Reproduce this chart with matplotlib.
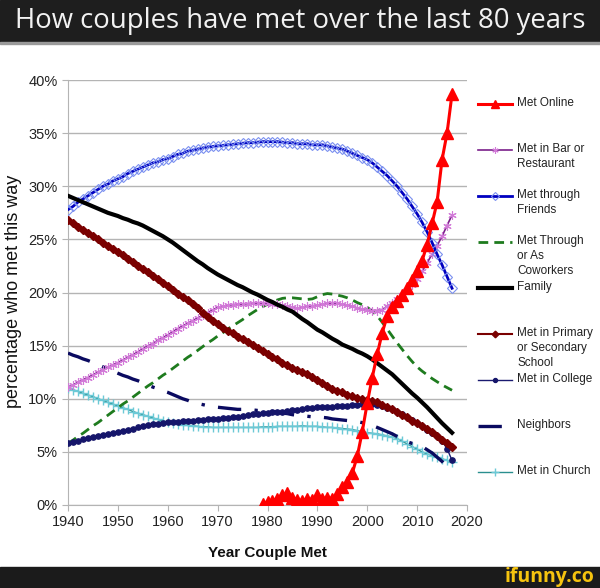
import numpy as np
import matplotlib
matplotlib.use("Agg")
import matplotlib.pyplot as plt
from matplotlib.patches import Rectangle

# dati (percentuali), un valore per anno
anni = list(range(1940, 2018))
anni_online = list(range(1979, 2018))

online = [0.1, 0.3, 0.4, 0.6, 0.9, 1.1, 0.7, 0.5, 0.4, 0.6,
          0.5, 0.9, 0.6, 0.7, 0.6, 1.0, 1.7, 2.2, 3.0, 4.6,
          6.9, 9.6, 12.0, 14.2, 16.2, 17.8, 18.6, 19.2, 19.8, 20.4,
          21.2, 22.0, 23.0, 24.5, 26.5, 28.5, 32.5, 35.0, 38.7]

bar = [11.1, 11.3, 11.55, 11.8, 12.0, 12.25, 12.5, 12.7, 12.95, 13.2,
       13.4, 13.65, 13.9, 14.15, 14.4, 14.7, 14.95, 15.2, 15.5, 15.75,
       16.0, 16.3, 16.6, 16.85, 17.1, 17.35, 17.6, 17.85, 18.1, 18.35,
       18.6, 18.7, 18.8, 18.85, 18.9, 18.9, 18.95, 19.0, 19.0, 19.0,
       19.0, 18.95, 18.9, 18.8, 18.7, 18.6, 18.55, 18.6, 18.7, 18.75,
       18.8, 18.9, 19.0, 19.0, 19.0, 18.9, 18.8, 18.7, 18.55, 18.45,
       18.4, 18.3, 18.3, 18.4, 18.7, 19.0, 19.4, 19.8, 20.2, 20.7,
       21.3, 22.0, 22.8, 23.6, 24.4, 25.3, 26.3, 27.3]

amici = [27.8, 28.1, 28.5, 28.8, 29.1, 29.4, 29.7, 30.0, 30.2, 30.5,
         30.7, 30.9, 31.2, 31.4, 31.6, 31.8, 32.0, 32.2, 32.3, 32.5,
         32.6, 32.8, 33.0, 33.1, 33.3, 33.4, 33.5, 33.6, 33.7, 33.75,
         33.8, 33.85, 33.9, 33.95, 34.0, 34.05, 34.1, 34.1, 34.15, 34.2,
         34.2, 34.2, 34.2, 34.15, 34.1, 34.1, 34.0, 34.0, 34.0, 33.9,
         33.9, 33.9, 33.8, 33.7, 33.6, 33.5, 33.3, 33.1, 32.9, 32.7,
         32.5, 32.2, 31.8, 31.4, 31.0, 30.5, 30.0, 29.4, 28.8, 28.1,
         27.4, 26.6, 25.7, 24.7, 23.6, 22.6, 21.5, 20.4]

colleghi = [5.8, 6.1, 6.45, 6.75, 7.1, 7.45, 7.75, 8.1, 8.45, 8.8,
            9.15, 9.5, 9.8, 10.15, 10.5, 10.85, 11.2, 11.5, 11.85, 12.2,
            12.5, 12.85, 13.2, 13.55, 13.9, 14.2, 14.55, 14.9, 15.25, 15.55,
            15.9, 16.2, 16.55, 16.85, 17.15, 17.45, 17.8, 18.1, 18.4, 18.65,
            18.9, 19.1, 19.3, 19.45, 19.5, 19.5, 19.45, 19.4, 19.35, 19.4,
            19.6, 19.8, 19.9, 19.85, 19.75, 19.65, 19.5, 19.3, 19.05, 18.85,
            18.6, 18.25, 17.8, 17.2, 16.55, 15.9, 15.25, 14.65, 14.05, 13.5,
            13.0, 12.6, 12.25, 11.9, 11.6, 11.3, 11.05, 10.8]

famiglia = [29.1, 28.9, 28.7, 28.5, 28.3, 28.1, 27.9, 27.7, 27.5, 27.35,
            27.2, 27.0, 26.85, 26.65, 26.5, 26.3, 26.05, 25.8, 25.55, 25.3,
            25.0, 24.7, 24.35, 24.0, 23.65, 23.3, 22.95, 22.65, 22.3, 22.0,
            21.7, 21.45, 21.2, 20.95, 20.7, 20.5, 20.25, 20.0, 19.8, 19.55,
            19.3, 19.1, 18.85, 18.65, 18.4, 18.2, 17.85, 17.5, 17.2, 16.85,
            16.5, 16.25, 15.95, 15.65, 15.4, 15.1, 14.9, 14.7, 14.45, 14.25,
            14.0, 13.7, 13.35, 13.0, 12.65, 12.3, 11.85, 11.4, 10.95, 10.5,
            10.1, 9.65, 9.2, 8.7, 8.2, 7.7, 7.25, 6.8]

scuola = [26.8, 26.5, 26.2, 25.9, 25.6, 25.3, 25.0, 24.7, 24.4, 24.1,
          23.8, 23.5, 23.2, 22.85, 22.5, 22.2, 21.9, 21.55, 21.25, 20.9,
          20.6, 20.25, 19.9, 19.6, 19.25, 18.9, 18.5, 18.1, 17.7, 17.35,
          17.0, 16.7, 16.4, 16.15, 15.85, 15.6, 15.3, 15.05, 14.75, 14.5,
          14.2, 13.95, 13.7, 13.4, 13.15, 12.9, 12.7, 12.5, 12.3, 12.05,
          11.8, 11.5, 11.2, 10.95, 10.75, 10.6, 10.4, 10.25, 10.1, 10.0,
          9.9, 9.8, 9.65, 9.45, 9.25, 9.0, 8.75, 8.5, 8.25, 7.95,
          7.7, 7.45, 7.15, 6.85, 6.5, 6.15, 5.8, 5.5]

college = [5.8, 5.95, 6.05, 6.2, 6.3, 6.4, 6.5, 6.6, 6.7, 6.8,
           6.9, 7.0, 7.1, 7.2, 7.3, 7.4, 7.5, 7.6, 7.65, 7.75,
           7.8, 7.85, 7.85, 7.9, 7.9, 7.95, 8.0, 8.0, 8.05, 8.05,
           8.1, 8.15, 8.2, 8.25, 8.3, 8.4, 8.45, 8.55, 8.6, 8.65,
           8.7, 8.75, 8.75, 8.8, 8.85, 8.9, 8.95, 9.0, 9.1, 9.15,
           9.2, 9.2, 9.25, 9.25, 9.3, 9.3, 9.35, 9.4, 9.45, 9.5,
           9.55, 9.55, 9.45, 9.3, 9.15, 9.0, 8.8, 8.55, 8.3, 8.0,
           7.7, 7.4, 7.1, 6.8, 6.45, 6.0, 5.3, 4.2]

vicini = [14.3, 14.1, 13.95, 13.75, 13.6, 13.4, 13.2, 13.0, 12.8, 12.6,
          12.4, 12.2, 12.05, 11.85, 11.7, 11.5, 11.3, 11.1, 10.95, 10.75,
          10.6, 10.4, 10.2, 10.0, 9.85, 9.65, 9.55, 9.45, 9.35, 9.25,
          9.2, 9.15, 9.1, 9.05, 9.0, 9.0, 8.95, 8.95, 8.9, 8.9,
          8.9, 8.8, 8.75, 8.65, 8.6, 8.5, 8.45, 8.4, 8.35, 8.3,
          8.3, 8.25, 8.2, 8.1, 8.05, 8.0, 7.95, 7.9, 7.85, 7.75,
          7.7, 7.5, 7.3, 7.1, 6.9, 6.7, 6.45, 6.2, 5.95, 5.8,
          5.7, 5.5, 5.2, 4.9, 4.5, 4.1, 3.6, 3.1]

chiesa = [11.0, 10.85, 10.7, 10.5, 10.35, 10.2, 10.0, 9.85, 9.65, 9.5,
          9.3, 9.15, 9.0, 8.8, 8.65, 8.5, 8.35, 8.2, 8.05, 7.9,
          7.8, 7.7, 7.6, 7.55, 7.5, 7.45, 7.4, 7.35, 7.35, 7.3,
          7.3, 7.3, 7.3, 7.3, 7.3, 7.3, 7.3, 7.3, 7.3, 7.35,
          7.35, 7.35, 7.4, 7.4, 7.4, 7.4, 7.4, 7.45, 7.4, 7.4,
          7.4, 7.35, 7.3, 7.3, 7.25, 7.2, 7.15, 7.1, 7.0, 6.9,
          6.8, 6.75, 6.7, 6.6, 6.5, 6.4, 6.25, 6.0, 5.75, 5.5,
          5.25, 5.0, 4.8, 4.65, 4.5, 4.35, 4.2, 4.05]

etichette = ["Met Online", "Met in Bar or\nRestaurant", "Met through\nFriends",
             "Met Through\nor As\nCoworkers", "Family",
             "Met in Primary\nor Secondary\nSchool", "Met in College",
             "Neighbors", "Met in Church"]

W, H = 600, 588
fig = plt.figure(figsize=(W / 100, H / 100), dpi=100)
fig.patch.set_facecolor("white")

ax = fig.add_axes([68 / W, 1 - 505 / H, 399 / W, 425 / H])

# stili delle serie
stili = [
    dict(color="#ff0000", lw=2.2, marker="^", ms=8.5, mfc="#ff0000", mec="#ff0000", zorder=10),
    dict(color="#7a1f8a", lw=1.2, marker=(6, 2, 0), ms=6, mec="#d27ad8", mew=0.8, zorder=5),
    dict(color="#0000c0", lw=2.0, marker="D", ms=5.5, mfc="none", mec="#7b90f0", mew=0.8, zorder=6),
    dict(color="#1e7b1e", lw=2.0, ls=(0, (3.5, 2.2)), zorder=4),
    dict(color="black", lw=3.0, zorder=7),
    dict(color="#7a0000", lw=1.5, marker="D", ms=4.5, mfc="#7a0000", mec="#7a0000", zorder=6),
    dict(color="#1a1a70", lw=1.0, marker="o", ms=3.8, mfc="#15156a", mec="#15156a", zorder=5),
    dict(color="#0a0a60", lw=2.4, ls=(0, (7, 4, 1, 4)), zorder=4),
    dict(color="#2a8f8f", lw=1.0, marker="+", ms=7, mec="#6cc9d6", mew=1.0, zorder=3),
]

serie = [(anni_online, online), (anni, bar), (anni, amici), (anni, colleghi),
         (anni, famiglia), (anni, scuola), (anni, college), (anni, vicini), (anni, chiesa)]

for (xs, ys), st in zip(serie, stili):
    ax.plot(xs, ys, **st)

ax.set_xlim(1940, 2020)
ax.set_ylim(0, 40)
ax.set_xticks(range(1940, 2021, 10))
ax.set_yticks(range(0, 41, 5))
ax.set_yticklabels([f"{v}%" for v in range(0, 41, 5)])
ax.grid(axis="y", color="#b4b4b4", lw=1)
ax.set_axisbelow(True)
for s in ["top", "right"]:
    ax.spines[s].set_visible(False)
for s in ["left", "bottom"]:
    ax.spines[s].set_color("#b4b4b4")
ax.tick_params(colors="#b4b4b4", labelcolor="#222222", length=4, labelsize=10.5)
for lab in ax.get_xticklabels() + ax.get_yticklabels():
    lab.set_family("Liberation Sans")
ax.set_xlabel("Year Couple Met", fontsize=11, fontweight="bold",
              family="Liberation Sans", labelpad=12, color="#111111")

# strato sopra per intestazione, piede e legenda (coordinate in pixel)
ov = fig.add_axes([0, 0, 1, 1], facecolor="none")
ov.set_xlim(0, W)
ov.set_ylim(H, 0)
ov.axis("off")

ov.text(14, 291, "percentage who met this way", rotation=90, fontsize=13,
        family="Liberation Sans", color="#111111", ha="center", va="center")

ov.add_patch(Rectangle((0, 0), W, 42, color="#1e1e1e"))
ov.add_patch(Rectangle((0, 42), W, 2, color="#9a9a9a"))
ov.text(300, 21, "How couples have met over the last 80 years", color="#f2f2f2",
        fontsize=19.8, family="Open Sans", ha="center", va="center")

ov.add_patch(Rectangle((0, 567), W, H - 567, color="#1b1b1b"))
ov.text(594, 577, "ifunny.co", color="#f6c40f", fontsize=14, fontweight="bold",
        family="Open Sans", ha="right", va="center")

# legenda manuale stile Excel
for i, (lab, st) in enumerate(zip(etichette, stili)):
    y = 104 + 46 * i
    st2 = dict(st)
    st2.pop("zorder", None)
    ov.plot([478, 512], [y, y], **{k: v for k, v in st2.items() if k not in ("marker", "ms", "mfc", "mec", "mew")})
    if "marker" in st:
        mk = {k: v for k, v in st2.items() if k in ("marker", "mfc", "mec", "mew")}
        ov.plot([495], [y], ls="none", ms=st["ms"] * 0.75, color=st["color"], **mk)
    ov.text(517, y - 7, lab, fontsize=8.5, family="Liberation Sans", color="#222222",
            va="top", ha="left", linespacing=1.35)

fig.savefig("out.png", dpi=100)
